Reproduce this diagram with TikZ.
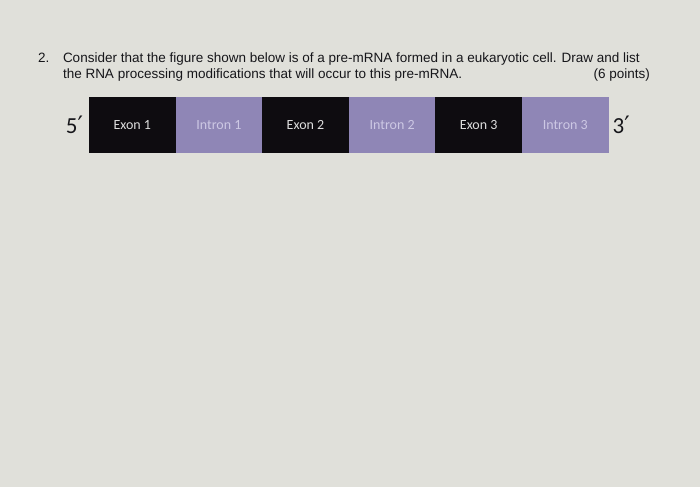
\documentclass[tikz,border=0pt]{standalone}
\usepackage{fontspec}
\setmainfont{Liberation Sans}
\newfontfamily\boxfont{Carlito}
\newfontfamily\symfont{DejaVu Sans}
\usetikzlibrary{positioning}

\definecolor{paper}{RGB}{224,224,218}
\definecolor{exonfill}{RGB}{14,12,16}
\definecolor{intronfill}{RGB}{143,134,182}
\definecolor{exontext}{RGB}{222,222,222}
\definecolor{introntext}{RGB}{205,200,228}
\definecolor{ink}{RGB}{22,22,26}

\newcommand{\primemark}{{\symfont\fontsize{24}{26}\selectfont ′}}

\begin{document}
\begin{tikzpicture}[x=1pt, y=-1pt, node distance=0pt,
    every node/.style={inner sep=0pt, outer sep=0pt},
    exon/.style={fill=exonfill, text=exontext, minimum width=86.6pt, minimum height=56pt, font=\boxfont\fontsize{14}{16}\selectfont},
    intron/.style={exon, fill=intronfill, text=introntext},
    prime/.style={text=ink, font=\boxfont\fontsize{23}{25}\selectfont},
    question/.style={anchor=base west, text=ink, font=\fontsize{13.5}{15}\selectfont}]
        \fill[paper] (0,0) rectangle (700,487);

        % question text
        \node[question] (num) at (38,62) {2.};
        \node[question] (q1) at (63,62) {Consider that the figure shown below is of a pre-mRNA formed in a eukaryotic cell. Draw and list};
        \node[question] (q2) at (63,78) {the RNA processing modifications that will occur to this pre-mRNA.};
        \node[question, anchor=base east] (pts) at (650,78) {(6 points)};

        % pre-mRNA
        \node[exon, anchor=north west] (e1) at (89,97) {Exon 1};
        \node[intron] (i1) [right=of e1] {Intron 1};
        \node[exon] (e2) [right=of i1] {Exon 2};
        \node[intron] (i2) [right=of e2] {Intron 2};
        \node[exon] (e3) [right=of i2] {Exon 3};
        \node[intron] (i3) [right=of e3] {Intron 3};

        \node[prime, anchor=east] (five) [left=6pt of e1] {5\primemark};
        \node[prime, anchor=west] (three) [right=4pt of i3] {3\primemark};
    \end{tikzpicture}
\end{document}
